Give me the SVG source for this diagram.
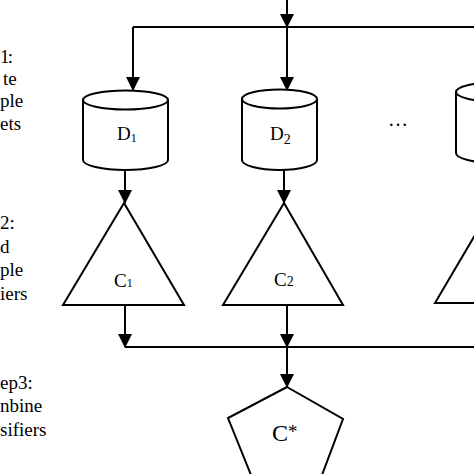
<svg xmlns="http://www.w3.org/2000/svg" width="474" height="474" viewBox="0 0 474 474">
<defs>
<marker id="ah" markerWidth="15" markerHeight="14" refX="13" refY="7" orient="auto" markerUnits="userSpaceOnUse">
<path d="M0,0 L14,7 L0,14 Z" fill="#000"/>
</marker>
<style>
.ln{fill:none;stroke:#000;stroke-width:2}
.ar{fill:none;stroke:#000;stroke-width:2;marker-end:url(#ah)}
.sh{fill:#fff;stroke:#000;stroke-width:2}
.t{font-family:"Liberation Serif","Times New Roman",serif;fill:#000}
.side{font-family:"Liberation Serif","Times New Roman",serif;font-size:19px;fill:#000}
</style>
</defs>
<rect width="474" height="474" fill="#fff"/>
<g id="connectors">
<path class="ar" d="M287,0 V27"/>
<path class="ln" d="M133,27 H474"/>
<path class="ar" d="M133,27 V90"/>
<path class="ar" d="M287,27 V90"/>
<path class="ar" d="M125,170 V203"/>
<path class="ar" d="M284,170 V203"/>
<path class="ar" d="M125,305 V347"/>
<path class="ln" d="M125,347 H474"/>
<path class="ar" d="M287,305 V347"/>
<path class="ar" d="M287,347 V387"/>
</g>
<g id="labels-left">
<text class="side" x="0" y="63" textLength="13" lengthAdjust="spacing">1 :</text>
<text class="side" x="3" y="85">te</text>
<text class="side" x="0" y="107">ple</text>
<text class="side" x="0" y="130">ets</text>
<text class="side" x="0" y="229">2:</text>
<text class="side" x="0" y="253">d</text>
<text class="side" x="0" y="276">ple</text>
<text class="side" x="0" y="300">iers</text>
<text class="side" x="0" y="389">ep3:</text>
<text class="side" x="0" y="412">nbine</text>
<text class="side" x="0" y="436">sifiers</text>
</g>
<g id="D1">
<path class="sh" d="M83,100 V160 A42.5,10 0 0 0 168,160 V100"/>
<ellipse class="sh" cx="125.5" cy="100" rx="42.5" ry="9.5"/>
<text class="t" x="117" y="140" font-size="19">D<tspan font-size="12" dy="2">1</tspan></text>
</g>
<g id="D2">
<path class="sh" d="M242,99 V160 A37.5,10 0 0 0 317,160 V99"/>
<ellipse class="sh" cx="279.5" cy="99" rx="37.5" ry="9.5"/>
<text class="t" x="270" y="140" font-size="19">D<tspan font-size="14" dy="4">2</tspan></text>
</g>
<g id="D3">
<path class="sh" d="M456,92 V153 A40,10 0 0 0 536,153 V92"/>
<ellipse class="sh" cx="496" cy="92" rx="40" ry="9.5"/>
</g>
<g id="dots">
<text class="t" x="398" y="126" font-size="20" text-anchor="middle">…</text>
</g>
<g id="C1">
<polygon class="sh" points="124,203 63,305 184,305"/>
<text class="t" x="114" y="287" font-size="19">C<tspan font-size="12">1</tspan></text>
</g>
<g id="C2">
<polygon class="sh" points="284,203 223,305 343,305"/>
<text class="t" x="274" y="286" font-size="19">C<tspan font-size="14">2</tspan></text>
</g>
<g id="C3">
<polygon class="sh" points="495,201 435,303 555,303"/>
</g>
<g id="Cstar">
<polygon class="sh" points="287,387 343,419 322,475 251,475 228,418"/>
<text class="t" x="272" y="441" font-size="24">C<tspan font-size="19" dy="-3">*</tspan></text>
</g>
</svg>
